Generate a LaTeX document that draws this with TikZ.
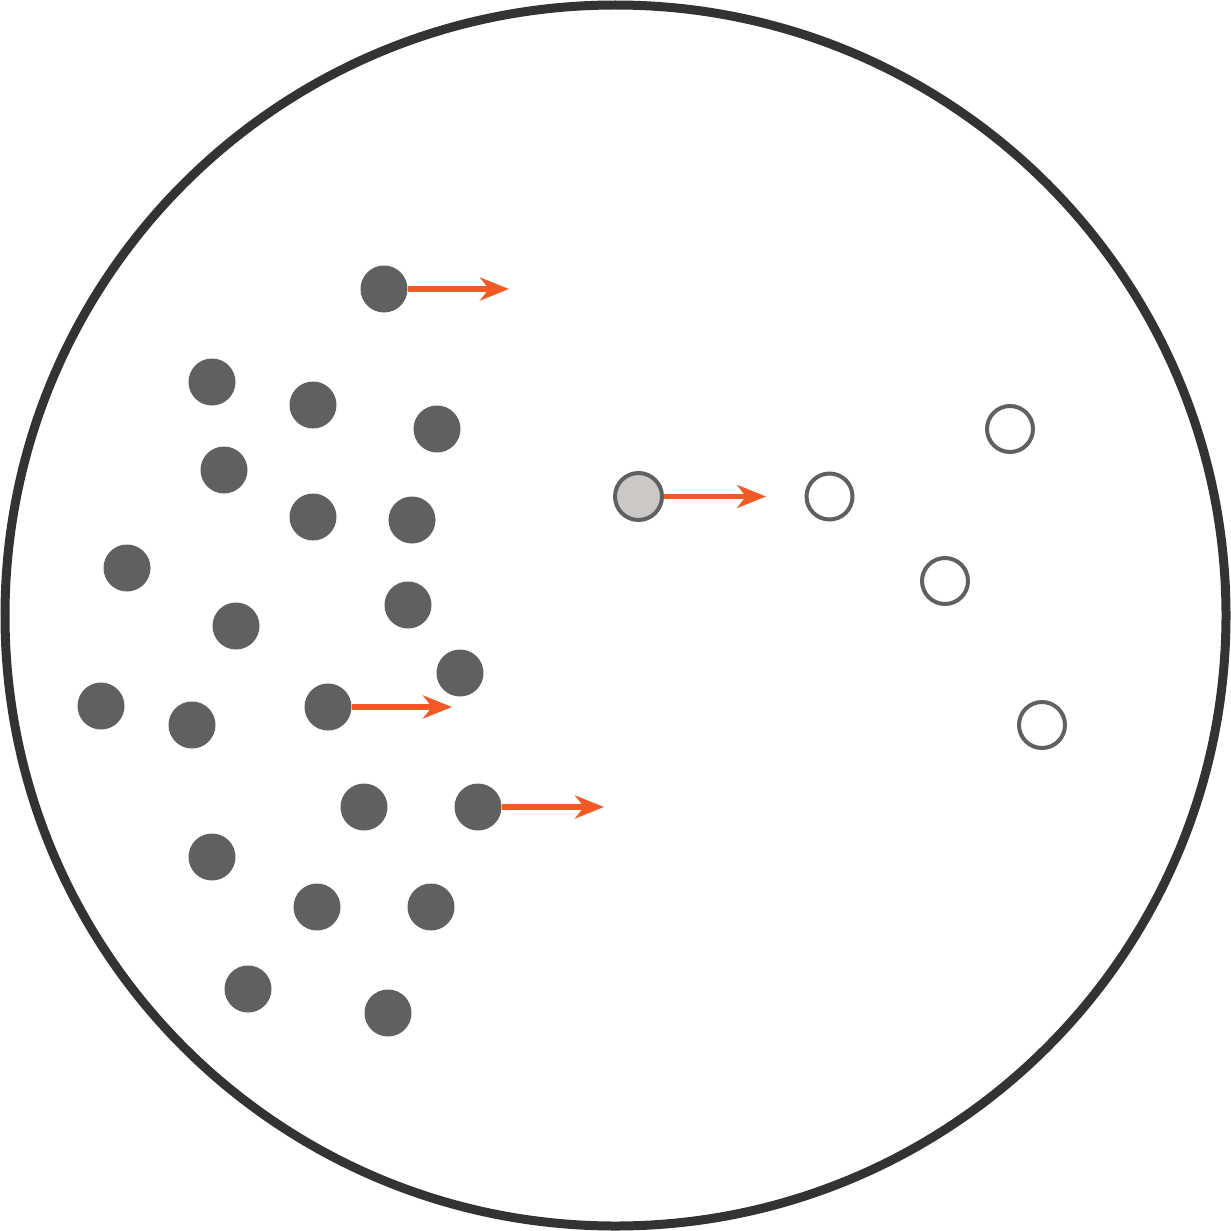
\documentclass[tikz,border=0pt]{standalone}
\usetikzlibrary{arrows.meta}
\definecolor{dotc}{HTML}{5F6160}
\definecolor{rimc}{HTML}{333333}
\definecolor{arrc}{HTML}{F15A24}
\definecolor{lgray}{HTML}{CCC8C5}
\begin{document}
\begin{tikzpicture}[x=1pt,y=-1pt,
  dot/.style={circle,fill=dotc,draw=none,minimum size=47pt,inner sep=0pt},
  hollow/.style={circle,fill=white,draw=dotc,line width=4pt,minimum size=46pt,inner sep=0pt},
  greydot/.style={circle,fill=lgray,draw=dotc,line width=4pt,minimum size=47pt,inner sep=0pt},
  push/.style={draw=arrc,line width=5.5pt,-{Stealth[length=29pt,width=23pt,inset=9pt]}}]
\useasboundingbox (0,0) rectangle (1231,1231);
\node[circle,draw=rimc,line width=9pt,minimum size=1221pt,inner sep=0pt] (rim) at (615.5,615.5) {};
\foreach \n/\x/\y in {a/384/289, b/212/382, c/313/405, d/437/429, e/224/470, f/313/517, g/412/520, h/127/568, i/236/626, j/408/605, k/460/673, l/101/706, m/192/725, n/328/707, o/364/807, p/478/807, q/212/857, r/317/907, s/431/907, t/248/989, u/388/1013}
  \node[dot] (\n) at (\x,\y) {};
\node[greydot] (gr) at (638.5,496.5) {};
\node[hollow] (h1) at (829.5,496.5) {};
\node[hollow] (h2) at (1010,429) {};
\node[hollow] (h3) at (945,581) {};
\node[hollow] (h4) at (1042,725) {};
\coordinate (ea) at (509,289);
\coordinate (egr) at (766,496.5);
\coordinate (en) at (452,707);
\coordinate (ep) at (604,807);
\draw[push] (a.east) -- (ea);
\draw[push] (gr.east) -- (egr);
\draw[push] (n.east) -- (en);
\draw[push] (p.east) -- (ep);
\end{tikzpicture}
\end{document}
